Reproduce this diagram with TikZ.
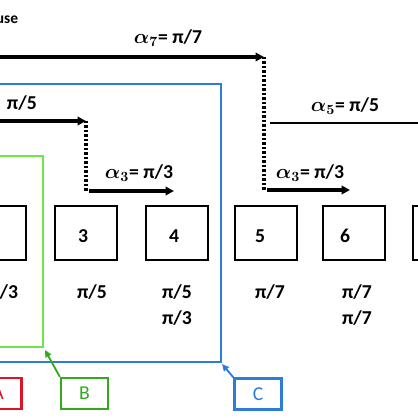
\documentclass[tikz,border=0pt]{standalone}
\usepackage{fontspec}
\setmainfont{Carlito}
\usetikzlibrary{arrows.meta,positioning}
\definecolor{cblue}{RGB}{45,125,215}
\definecolor{lgreen}{RGB}{110,230,70}
\definecolor{dgreen}{RGB}{50,170,30}
\definecolor{cred}{RGB}{220,20,40}
\begin{document}
\begin{tikzpicture}[x=0.025cm,y=-0.025cm,
    every node/.style={font=\fontsize{14}{16}\selectfont\bfseries},
    angle/.style={font=\fontsize{14}{16}\selectfont\bfseries\mathversion{bold}},
    box/.style={draw,line width=1.7pt,minimum width=1.55cm,minimum height=1.35cm,inner sep=0pt},
    flow/.style={line width=2.6pt,-{Triangle[length=6pt,width=6pt]}},
    jump/.style={line width=2.2pt,dash pattern=on 1.6pt off 1.6pt},
    tag/.style={draw,line width=1.7pt,minimum width=1.175cm,minimum height=0.775cm,inner sep=0pt,
      font=\fontsize{14}{16}\selectfont},
    pointer/.style={line width=1.3pt,-{Triangle[length=5pt,width=4.5pt]}}]
\useasboundingbox (0,0) rectangle (418,418);
\clip (0,0) rectangle (418,418);

% caption fragment
\node[anchor=east,font=\fontsize{11}{13}\selectfont\bfseries] (cap) at (23,20) {use};

% groups
\coordinate (cC) at (221,362);
\coordinate (cB) at (43,347);
\draw[cblue,line width=1.5pt] (-10,84) -| (cC) -- (-10,362);
\draw[lgreen,line width=1.3pt] (-10,156) -| (cB) -- (-10,347);

% blocks
\node[box] (b2) at (-5,233) {};
\node[box] (b3) at (86,233) {};
\node[box] (b4) at (177,233) {};
\node[box] (b5) at (266,233) {};
\node[box] (b6) at (354,233) {};
\node[box] (b7) at (444,233) {};
\node (n3) at (83,236) {3};
\node (n4) at (174,236) {4};
\node (n5) at (260,236) {5};
\node (n6) at (345,236) {6};

% angles under blocks
\node[anchor=east] (p2) at (23,292) {π/3};
\node (p3) at (92,292) {π/5};
\node (p4) at (177,292) {π/5};
\node (q4) at (177,318) {π/3};
\node (p5) at (270,292) {π/7};
\node (p6) at (357,292) {π/7};
\node (q6) at (357,318) {π/7};

% alpha 7 path
\coordinate (s7) at (-10,57);
\coordinate (t7) at (264,57);
\coordinate (u7) at (264,190);
\coordinate (d7) at (267,190);
\coordinate (e7) at (350,190);
\draw[flow] (s7) -- (t7);
\draw[jump] (t7) -- (u7);
\draw[flow] (d7) -- (e7);
\node[angle] (l7) at (168,38) {$\alpha_{7}$= π/7};
\node[angle] (l3b) at (310,173) {$\alpha_{3}$= π/3};

% alpha 5 path
\coordinate (s5) at (-10,121);
\coordinate (t5) at (86,121);
\coordinate (u5) at (86,191);
\coordinate (d5) at (89,191);
\coordinate (e5) at (174,191);
\draw[flow] (s5) -- (t5);
\draw[jump] (t5) -- (u5);
\draw[flow] (d5) -- (e5);
\node[anchor=west] (l5a) at (2,103) {π/5};
\node[angle] (l3a) at (139,173) {$\alpha_{3}$= π/3};

% second alpha 5 line
\coordinate (s5b) at (270,123);
\coordinate (e5b) at (430,123);
\draw[line width=2pt] (s5b) -- (e5b);
\node[angle] (l5b) at (345,106) {$\alpha_{5}$= π/5};

% tags
\node[tag,draw=cred,text=cred] (A) at (-2,393.5) {A};
\node[tag,draw=dgreen,text=dgreen] (B) at (84.5,393.5) {B};
\node[tag,draw=cblue,text=cblue] (C) at (258,394) {C};
\draw[pointer,dgreen] (B.north west) -- ([shift={(2,3)}]cB);
\draw[pointer,cblue] (C.north west) -- ([shift={(1,2)}]cC);
\end{tikzpicture}
\end{document}
